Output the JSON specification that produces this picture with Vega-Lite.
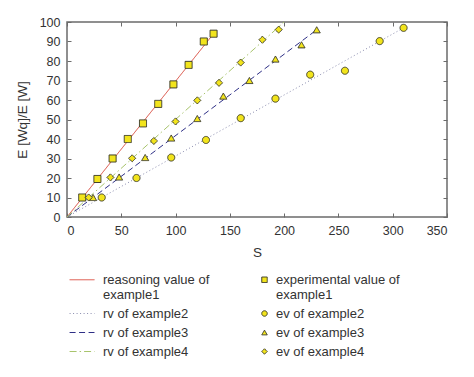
{
  "$schema": "https://vega.github.io/schema/vega-lite/v6.json",
  "autosize": {"type": "none"},
  "padding": {"left": 67, "top": 22, "right": 27, "bottom": 160},
  "width": 380,
  "height": 195,
  "background": "white",
  "config": {
    "font": "Liberation Sans",
    "view": {"stroke": "#6b6b6b", "strokeWidth": 1.5},
    "axis": {
      "grid": false,
      "domain": false,
      "tickColor": "#6b6b6b",
      "tickSize": 4,
      "offset": -4,
      "labelPadding": 7,
      "labelFont": "Liberation Sans",
      "labelFontSize": 12.5,
      "labelColor": "#333",
      "titleFont": "Liberation Sans",
      "titleFontSize": 13.5,
      "titleFontWeight": "normal",
      "titleColor": "#333"
    },
    "legend": {
      "labelFont": "Liberation Sans",
      "labelFontSize": 13,
      "labelColor": "#333"
    }
  },
  "datasets": {
    "lines": [
      {"series": "reasoning value of example1", "S": 0, "E": 0},
      {"series": "reasoning value of example1", "S": 135, "E": 94},
      {"series": "rv of example2", "S": 0, "E": 0},
      {"series": "rv of example2", "S": 310, "E": 97},
      {"series": "rv of example3", "S": 0, "E": 0},
      {"series": "rv of example3", "S": 230, "E": 96},
      {"series": "rv of example4", "S": 0, "E": 0},
      {"series": "rv of example4", "S": 200, "E": 100}
    ],
    "points": [
      {"series": "experimental value of example1", "S": 14, "E": 10},
      {"series": "experimental value of example1", "S": 28, "E": 19.5},
      {"series": "experimental value of example1", "S": 42, "E": 30},
      {"series": "experimental value of example1", "S": 56, "E": 40},
      {"series": "experimental value of example1", "S": 70, "E": 48},
      {"series": "experimental value of example1", "S": 84, "E": 58},
      {"series": "experimental value of example1", "S": 98, "E": 68},
      {"series": "experimental value of example1", "S": 112, "E": 78},
      {"series": "experimental value of example1", "S": 126, "E": 90},
      {"series": "experimental value of example1", "S": 135, "E": 94},
      {"series": "ev of example2", "S": 32, "E": 10},
      {"series": "ev of example2", "S": 64, "E": 20},
      {"series": "ev of example2", "S": 96, "E": 30.5},
      {"series": "ev of example2", "S": 128, "E": 39.5},
      {"series": "ev of example2", "S": 160, "E": 50.7},
      {"series": "ev of example2", "S": 192, "E": 60.7},
      {"series": "ev of example2", "S": 224, "E": 73},
      {"series": "ev of example2", "S": 256, "E": 75},
      {"series": "ev of example2", "S": 288, "E": 90.2},
      {"series": "ev of example2", "S": 310, "E": 97},
      {"series": "ev of example3", "S": 24, "E": 10},
      {"series": "ev of example3", "S": 48, "E": 20.5},
      {"series": "ev of example3", "S": 72, "E": 30.5},
      {"series": "ev of example3", "S": 96, "E": 40.5},
      {"series": "ev of example3", "S": 120, "E": 50.5},
      {"series": "ev of example3", "S": 144, "E": 62},
      {"series": "ev of example3", "S": 168, "E": 70},
      {"series": "ev of example3", "S": 192, "E": 81},
      {"series": "ev of example3", "S": 216, "E": 88.3},
      {"series": "ev of example3", "S": 230, "E": 96},
      {"series": "ev of example4", "S": 20, "E": 10},
      {"series": "ev of example4", "S": 40, "E": 20.3},
      {"series": "ev of example4", "S": 60, "E": 30.1},
      {"series": "ev of example4", "S": 80, "E": 39},
      {"series": "ev of example4", "S": 100, "E": 49},
      {"series": "ev of example4", "S": 120, "E": 59.8},
      {"series": "ev of example4", "S": 140, "E": 68.8},
      {"series": "ev of example4", "S": 160, "E": 79.2},
      {"series": "ev of example4", "S": 180, "E": 90.9},
      {"series": "ev of example4", "S": 195, "E": 96.1}
    ]
  },
  "layer": [
    {
      "data": {"name": "lines"},
      "mark": {"type": "line", "strokeWidth": 1, "clip": true},
      "encoding": {
        "x": {
          "field": "S", "type": "quantitative",
          "scale": {"domain": [0, 350], "nice": false},
          "axis": {"orient": "bottom", "values": [0, 50, 100, 150, 200, 250, 300, 350], "title": "S", "titlePadding": 9}
        },
        "y": {
          "field": "E", "type": "quantitative",
          "scale": {"domain": [0, 100], "nice": false},
          "axis": {"orient": "left", "values": [0, 10, 20, 30, 40, 50, 60, 70, 80, 90, 100], "title": "E [Wq]/E [W]", "titlePadding": 10}
        },
        "detail": {"field": "series"},
        "stroke": {"field": "series", "type": "nominal"},
        "strokeDash": {"field": "series", "type": "nominal"}
      }
    },
    {
      "data": {"name": "points"},
      "mark": {"type": "point", "filled": false, "strokeWidth": 1, "size": 50, "opacity": 1},
      "encoding": {
        "x": {
          "field": "S", "type": "quantitative",
          "axis": {"orient": "top", "values": [0, 50, 100, 150, 200, 250, 300, 350], "labels": false, "title": null}
        },
        "y": {
          "field": "E", "type": "quantitative",
          "axis": {"orient": "right", "values": [0, 10, 20, 30, 40, 50, 60, 70, 80, 90, 100], "labels": false, "title": null}
        },
        "shape": {
          "field": "series", "type": "nominal",
          "scale": {
            "domain": ["reasoning value of example1", "rv of example2", "rv of example3", "rv of example4", "experimental value of example1", "ev of example2", "ev of example3", "ev of example4"],
            "range": ["M-8,0H1.1", "M-8,0H1.1", "M-8,0H1.1", "M-8,0H1.1", "square", "circle", "triangle-up", "diamond"]
          },
          "legend": {
            "title": null,
            "orient": "bottom",
            "direction": "vertical",
            "columns": 2,
            "offset": 14,
            "symbolSize": 30,
            "symbolStrokeWidth": 1,
            "symbolOffset": 18,
            "rowPadding": 5,
            "columnPadding": 30,
            "labelOffset": 5,
            "labelExpr": "datum.label == 'reasoning value of example1' ? ['reasoning value of', 'example1'] : datum.label == 'experimental value of example1' ? ['experimental value of', 'example1'] : datum.label"
          }
        },
        "fill": {
          "field": "series", "type": "nominal",
          "scale": {
            "domain": ["reasoning value of example1", "rv of example2", "rv of example3", "rv of example4", "experimental value of example1", "ev of example2", "ev of example3", "ev of example4"],
            "range": ["transparent", "transparent", "transparent", "transparent", "#f2e41c", "#f2e41c", "#f2e41c", "#f2e41c"]
          }
        },
        "stroke": {
          "field": "series", "type": "nominal",
          "scale": {
            "domain": ["reasoning value of example1", "rv of example2", "rv of example3", "rv of example4", "experimental value of example1", "ev of example2", "ev of example3", "ev of example4"],
            "range": ["#d9483b", "#8a8cae", "#2e2f86", "#a8c46c", "#3a3a2a", "#3a3a2a", "#3a3a2a", "#3a3a2a"]
          }
        },
        "strokeDash": {
          "field": "series", "type": "nominal",
          "scale": {
            "domain": ["reasoning value of example1", "rv of example2", "rv of example3", "rv of example4", "experimental value of example1", "ev of example2", "ev of example3", "ev of example4"],
            "range": [[1, 0], [1, 2.5], [6, 3.5], [7, 3, 1.5, 3], [1, 0], [1, 0], [1, 0], [1, 0]]
          }
        }
      }
    }
  ],
  "resolve": {"axis": {"x": "independent", "y": "independent"}}
}
